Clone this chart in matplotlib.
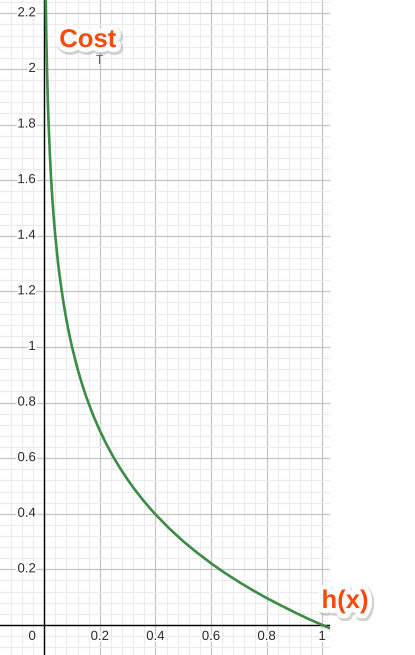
import matplotlib.pyplot as plt
import matplotlib.patheffects as pe
from matplotlib.ticker import MultipleLocator

plt.rcParams['font.family'] = ['Liberation Sans', 'DejaVu Sans']

# points (cost against h(x))
hx = [0.0056, 0.007, 0.008, 0.01, 0.013, 0.015, 0.02, 0.025, 0.03, 0.035, 0.04, 0.05,
      0.06, 0.07, 0.08, 0.09, 0.1, 0.12, 0.135, 0.15, 0.175, 0.2, 0.225, 0.25, 0.275,
      0.3, 0.325, 0.35, 0.375, 0.4, 0.45, 0.5, 0.55, 0.6, 0.65, 0.7, 0.75, 0.8, 0.85,
      0.9, 0.95, 1.0, 1.028]
cost = [2.25, 2.155, 2.10, 2.0, 1.886, 1.824, 1.70, 1.60, 1.523, 1.456, 1.398, 1.30,
        1.222, 1.155, 1.097, 1.046, 1.0, 0.921, 0.870, 0.824, 0.757, 0.699, 0.648,
        0.602, 0.561, 0.523, 0.488, 0.456, 0.426, 0.398, 0.347, 0.301, 0.260, 0.222,
        0.187, 0.155, 0.125, 0.097, 0.071, 0.046, 0.022, 0.0, -0.012]

xticks = [0.2, 0.4, 0.6, 0.8, 1.0]
xlabels = ['0.2', '0.4', '0.6', '0.8', '1']
yticks = [0.2, 0.4, 0.6, 0.8, 1.0, 1.2, 1.4, 1.6, 1.8, 2.0, 2.2]
ylabels = ['0.2', '0.4', '0.6', '0.8', '1', '1.2', '1.4', '1.6', '1.8', '2', '2.2']

fig = plt.figure(figsize=(4.15, 6.55), dpi=100)
ax = fig.add_axes([0, 0, 330 / 415, 1])
ax.set_xlim(-0.159, 1.028)
ax.set_ylim(-0.108, 2.248)

# grid
ax.xaxis.set_major_locator(MultipleLocator(0.2))
ax.yaxis.set_major_locator(MultipleLocator(0.2))
ax.xaxis.set_minor_locator(MultipleLocator(0.04))
ax.yaxis.set_minor_locator(MultipleLocator(0.04))
ax.grid(which='minor', color='#ebebeb', linewidth=0.8)
ax.grid(which='major', color='#c4c4c4', linewidth=0.9)
ax.tick_params(which='both', length=0, labelbottom=False, labelleft=False)
for s in ax.spines.values():
    s.set_visible(False)

# axes lines
ax.axhline(0, color='black', linewidth=1.0, zorder=2)
ax.axvline(0, color='black', linewidth=1.0, zorder=2)

halo = [pe.withStroke(linewidth=3, foreground='white')]
for x, lab in zip(xticks, xlabels):
    ax.text(x, -0.043, lab, ha='center', va='center', fontsize=9.5,
            color='#2a2a2a', path_effects=halo, zorder=3)
ax.text(-0.03, -0.043, '0', ha='right', va='center', fontsize=9.5,
        color='#2a2a2a', path_effects=halo, zorder=3)
for y, lab in zip(yticks, ylabels):
    ax.text(-0.03, y, lab, ha='right', va='center', fontsize=9.5,
            color='#2a2a2a', path_effects=halo, zorder=3)

# the curve
ax.plot(hx, cost, color='#3d8c45', linewidth=1.9, zorder=4, clip_on=True,
        solid_joinstyle='round')

# labels
fancy = [pe.Stroke(linewidth=8, foreground='#999999', alpha=0.45, offset=(1, -1.5)),
         pe.Stroke(linewidth=7, foreground='white'),
         pe.Normal()]
ax.text(0.157, 2.104, 'Cost', ha='center', va='center', fontsize=18.5,
        fontweight='bold', color='#fc4a0b', path_effects=fancy, zorder=6)
ax.text(0.2, 2.028, 'T', ha='center', va='center', fontsize=8.5,
        color='#2f7d3a', zorder=7)
ax.text(1.082, 0.086, 'h(x)', ha='center', va='center', fontsize=18.5,
        fontweight='bold', color='#fc4a0b', path_effects=fancy, zorder=6,
        clip_on=False)

fig.savefig('out.png', dpi=100)
